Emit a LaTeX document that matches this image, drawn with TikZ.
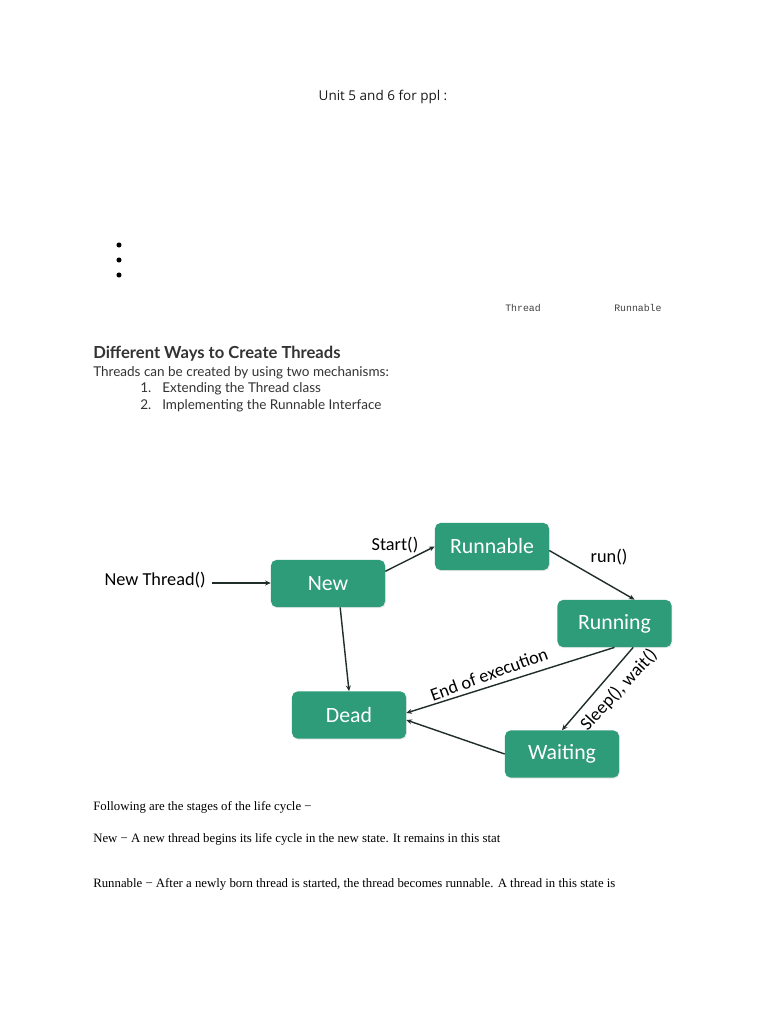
\documentclass[tikz,border=0pt]{standalone}
\usepackage{fontspec}
\setmainfont{Liberation Serif}
\setmonofont{Liberation Mono}
\newfontfamily\diagfont{Carlito}
\newfontfamily\headfont{Lato}
\newfontfamily\docfont{Open Sans}
\usetikzlibrary{arrows.meta, shadows}
\definecolor{stategreen}{HTML}{2E9C78}
\definecolor{wire}{HTML}{1F2E2A}
\definecolor{ink}{HTML}{333333}

\begin{document}
\begin{tikzpicture}[x=0.025cm, y=-0.025cm,
  state/.style={rectangle, rounded corners=4pt, fill=stategreen, text=white,
                minimum width=2.85cm, minimum height=1.18cm, inner sep=0pt,
                font=\diagfont\fontsize{15.5}{18}\selectfont,
                drop shadow={opacity=0.18, shadow xshift=0.6pt, shadow yshift=-0.8pt}},
  trans/.style={draw=wire, line width=1pt, -{Stealth[length=4pt, width=3.5pt]}},
  tlabel/.style={font=\diagfont\fontsize{13}{15}\selectfont, text=black, inner sep=0pt},
  doc/.style={anchor=base west, inner sep=0pt, text=ink},
  prose/.style={anchor=base west, inner sep=0pt, font=\fontsize{9.1}{11}\selectfont},
  code/.style={anchor=base west, inner sep=0pt, font=\ttfamily\fontsize{7}{8}\selectfont, text=black!75},
  dot/.style={circle, fill=black, inner sep=0pt, minimum size=3.6pt},
]

\fill[white] (0,0) rectangle (768,1024);
\useasboundingbox (0,0) rectangle (768,1024);

\node[anchor=base, inner sep=0pt, font=\docfont\fontsize{9.6}{12}\selectfont, text=black!90] (title) at (383,101) {Unit 5 and 6 for ppl :};

\node[dot] (b1) at (119,245) {};
\node[dot] (b2) at (119,260) {};
\node[dot] (b3) at (119,275) {};

\node[code] (kwthread) at (505,311) {Thread};
\node[code] (kwrunnable) at (614,311) {Runnable};

\node[doc, font=\headfont\bfseries\fontsize{11.8}{14}\selectfont] (head) at (93,358) {Different Ways to Create Threads};
\node[doc, font=\headfont\fontsize{9.6}{12}\selectfont] (intro) at (93,376) {Threads can be created by using two mechanisms:};
\node[doc, font=\headfont\fontsize{9.6}{12}\selectfont] (n1) at (140,392) {1.};
\node[doc, font=\headfont\fontsize{9.6}{12}\selectfont] (i1) at (162,392) {Extending the Thread class};
\node[doc, font=\headfont\fontsize{9.6}{12}\selectfont] (n2) at (140,409) {2.};
\node[doc, font=\headfont\fontsize{9.6}{12}\selectfont] (i2) at (162,409) {Implementing the Runnable Interface};

\node[state] (new) at (328,583.5) {New};
\node[state] (runnable) at (492,546.5) {Runnable};
\node[state] (running) at (614.5,623.5) {Running};
\node[state] (dead) at (349,715) {Dead};
\node[state] (waiting) at (562,754) {Waiting};

\node[tlabel, anchor=east] (newthread) at (206,580) {New Thread()};
\node[tlabel] (lstart) at (395,545) {Start()};
\node[tlabel] (lrun) at (609,557) {run()};
\node[tlabel, rotate=20] (lend) at (489,674) {End of execution};
\node[tlabel, rotate=47] (lsleep) at (619,690) {Sleep(), wait()};

\draw[trans] (newthread.east) ++(6,3) coordinate (nt) (nt) -- (new.west |- nt);
\draw[trans] (new.12) -- (runnable.west);
\draw[trans] (runnable.-4) -- (running.50);
\draw[trans] (running.south) -- (dead.2);
\draw[trans] (running.-52) -- (waiting.north);
\draw[trans] (waiting.west) -- (dead.-5);
\draw[trans] (new.-63) -- (dead.north);

\node[prose] (p1) at (93,810) {Following are the stages of the life cycle −};
\node[prose] (p2) at (93,842) {New − A new thread begins its life cycle in the new state. It remains in this stat};
\node[prose] (p3) at (93,887) {Runnable − After a newly born thread is started, the thread becomes runnable. A thread in this state is};

\end{tikzpicture}
\end{document}
